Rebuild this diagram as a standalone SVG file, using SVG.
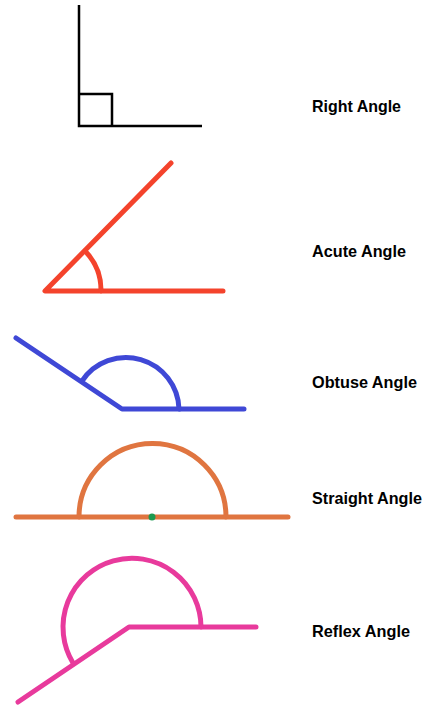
<svg xmlns="http://www.w3.org/2000/svg" width="433" height="718" viewBox="0 0 433 718">
<style>
.lbl{font-family:"Liberation Sans",Arial,sans-serif;font-weight:bold;font-size:16.5px;fill:#000}
.ang{fill:none;stroke-linecap:round;stroke-linejoin:round}
</style>
<rect width="433" height="718" fill="#fff"/>
<g id="right-angle">
<path class="ang" d="M79 5 V126 H202" stroke="#000" stroke-width="2.5" style="stroke-linecap:butt;stroke-linejoin:miter"/>
<path d="M79 94 H112 V126" fill="none" stroke="#000" stroke-width="2.5"/>
<text class="lbl" x="312" y="112" textLength="89" lengthAdjust="spacingAndGlyphs">Right Angle</text>
</g>
<g id="acute-angle">
<path class="ang" d="M171 163 L45 291 H223" stroke="#f4432c" stroke-width="5"/>
<path class="ang" d="M101 291 A56 56 0 0 0 85 251" stroke="#f4432c" stroke-width="5"/>
<text class="lbl" x="312" y="257" textLength="94" lengthAdjust="spacingAndGlyphs">Acute Angle</text>
</g>
<g id="obtuse-angle">
<path class="ang" d="M16 338 L122 409 H244" stroke="#3f48d6" stroke-width="5"/>
<path class="ang" d="M82 381 A53 53 0 0 1 179 409" stroke="#3f48d6" stroke-width="5"/>
<text class="lbl" x="312" y="388" textLength="105" lengthAdjust="spacingAndGlyphs">Obtuse Angle</text>
</g>
<g id="straight-angle">
<path class="ang" d="M16 517 H288" stroke="#e07540" stroke-width="5"/>
<path class="ang" d="M79 517 A73.5 73.5 0 0 1 226 517" stroke="#e07540" stroke-width="5"/>
<circle cx="152" cy="517" r="3.5" fill="#1c9a50"/>
<text class="lbl" x="312" y="504" textLength="110" lengthAdjust="spacingAndGlyphs">Straight Angle</text>
</g>
<g id="reflex-angle">
<path class="ang" d="M18 702 L129 627 H256" stroke="#e83a9c" stroke-width="5"/>
<path class="ang" d="M201 627 A69 69 0 1 0 73 663" stroke="#e83a9c" stroke-width="5"/>
<text class="lbl" x="312" y="637" textLength="98" lengthAdjust="spacingAndGlyphs">Reflex Angle</text>
</g>
<g id="connectors"/>
</svg>
